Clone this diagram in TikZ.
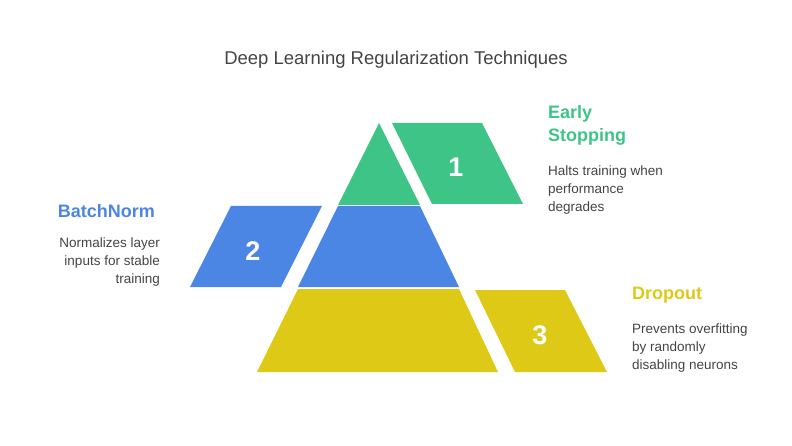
\documentclass[tikz,border=0pt]{standalone}
\usepackage{fontspec}
\setmainfont{Liberation Sans}
\definecolor{cgreen}{HTML}{3EC487}
\definecolor{cblue}{HTML}{4C86E4}
\definecolor{cyellow}{HTML}{DDC916}
\definecolor{ctext}{HTML}{444444}
\begin{document}
\begin{tikzpicture}[x=1pt,y=-1pt,
  num/.style={font=\bfseries\fontsize{27}{30}\selectfont,text=white},
  head/.style={font=\bfseries\fontsize{18}{23}\selectfont,anchor=west,align=left,inner sep=0pt},
  desc/.style={font=\fontsize{13.5}{18}\selectfont,text=ctext,align=left,anchor=north west,inner sep=0pt}]
\useasboundingbox (0,0) rectangle (792,446);
\node[font=\fontsize{18.5}{20}\selectfont,text=ctext] (title) at (396,60) {Deep Learning Regularization Techniques};
% pyramid
\fill[cgreen] (379,123) -- (420,205) -- (338,205) -- cycle;
\fill[cblue] (338,206) -- (420,206) -- (459,287) -- (298,287) -- cycle;
\fill[cyellow] (298,289) -- (459,289) -- (498,372) -- (257,372) -- cycle;
% parallelograms
\fill[cgreen] (392,123) -- (482,123) -- (523,204) -- (432,204) -- cycle;
\fill[cblue] (231,206) -- (322,206) -- (281,287) -- (190,287) -- cycle;
\fill[cyellow] (475,290) -- (565,290) -- (607,372) -- (515,372) -- cycle;
\node[num] (n1) at (456,167) {1};
\node[num] (n2) at (253,251) {2};
\node[num] (n3) at (540,335) {3};
\node[head,text=cgreen] (h1) at (548,125) {Early\\Stopping};
\node[desc] (d1) at (548,166) {Halts training when\\performance\\degrades};
\node[head,text=cblue,anchor=east] (h2) at (155,211) {BatchNorm};
\node[desc,anchor=north east,align=right] (d2) at (160,238) {Normalizes layer\\inputs for stable\\training};
\node[head,text=cyellow] (h3) at (632,295) {Dropout};
\node[desc] (d3) at (632,324) {Prevents overfitting\\by randomly\\disabling neurons};
\end{tikzpicture}
\end{document}
